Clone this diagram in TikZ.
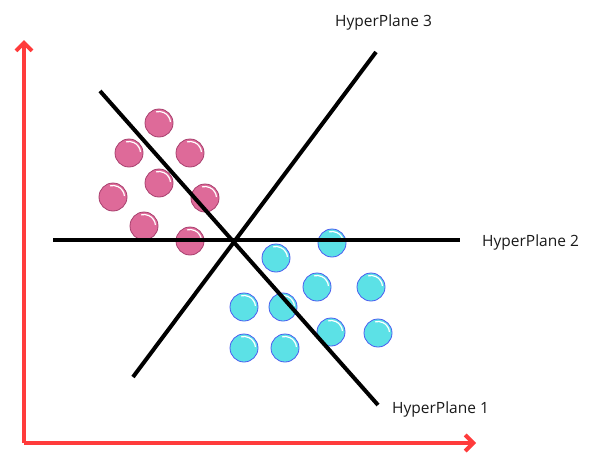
\documentclass[tikz,border=0pt]{standalone}
\usepackage{fontspec}
\setmainfont{Open Sans}
\usetikzlibrary{arrows.meta}
\definecolor{pinkf}{HTML}{DE6A99}
\definecolor{pinke}{HTML}{A8406E}
\definecolor{cyanf}{HTML}{5CE1E6}
\definecolor{cyane}{HTML}{4A5CF0}
\definecolor{axisred}{HTML}{FF3B3B}
\tikzset{
  pinkdot/.style={circle, minimum size=28pt, inner sep=0pt, fill=pinkf, draw=pinke, line width=0.8pt},
  cyandot/.style={circle, minimum size=28pt, inner sep=0pt, fill=cyanf, draw=cyane, line width=0.8pt},
  hplane/.style={line width=4pt, black},
  axisline/.style={line width=4pt, axisred, -{Straight Barb[length=8pt,width=16pt,line width=4pt]}},
  lbl/.style={font=\fontsize{15.5pt}{17pt}\selectfont, text=black!90, inner sep=0pt}
}
\newcommand{\shine}[1]{\draw[white, line width=1.2pt] ([shift={(5:11.5pt)}]#1.center) arc[start angle=5, end angle=105, radius=11.5pt];}
\begin{document}
\begin{tikzpicture}[x=1pt,y=-1pt]
\useasboundingbox (0,0) rectangle (600,471);
% axes
\coordinate (o) at (24,443);
\coordinate (ytop) at (24,40);
\coordinate (xend) at (476,443);
\draw[axisline] (o) -- (ytop);
\draw[axisline] (o) -- (xend);
% pink points
\foreach \n/\x/\y in {p1/159/123, p2/129/153, p3/190/153, p4/159/183, p5/113/197, p6/205/198, p7/144/226, p8/190/241} {
  \node[pinkdot] (\n) at (\x,\y) {};
  \shine{\n}
}
% cyan points
\foreach \n/\x/\y in {c1/276/258, c2/332/243, c3/317/287, c4/371/287, c5/244/307, c6/283/307, c7/331/332, c8/378/333, c9/244/348, c10/285/348} {
  \node[cyandot] (\n) at (\x,\y) {};
  \shine{\n}
}
% hyperplanes
\coordinate (h1a) at (100,91);
\coordinate (h1b) at (378,405);
\coordinate (h2a) at (53,240);
\coordinate (h2b) at (460,240);
\coordinate (h3a) at (133,377);
\coordinate (h3b) at (376,52);
\draw[hplane] (h1a) -- (h1b);
\draw[hplane] (h2a) -- (h2b);
\draw[hplane] (h3a) -- (h3b);
% labels
\node[lbl, anchor=west] (l3) at (335,22) {HyperPlane 3};
\node[lbl, anchor=west] (l2) at (482,242) {HyperPlane 2};
\node[lbl, anchor=west] (l1) at (392,409) {HyperPlane 1};
\end{tikzpicture}
\end{document}
